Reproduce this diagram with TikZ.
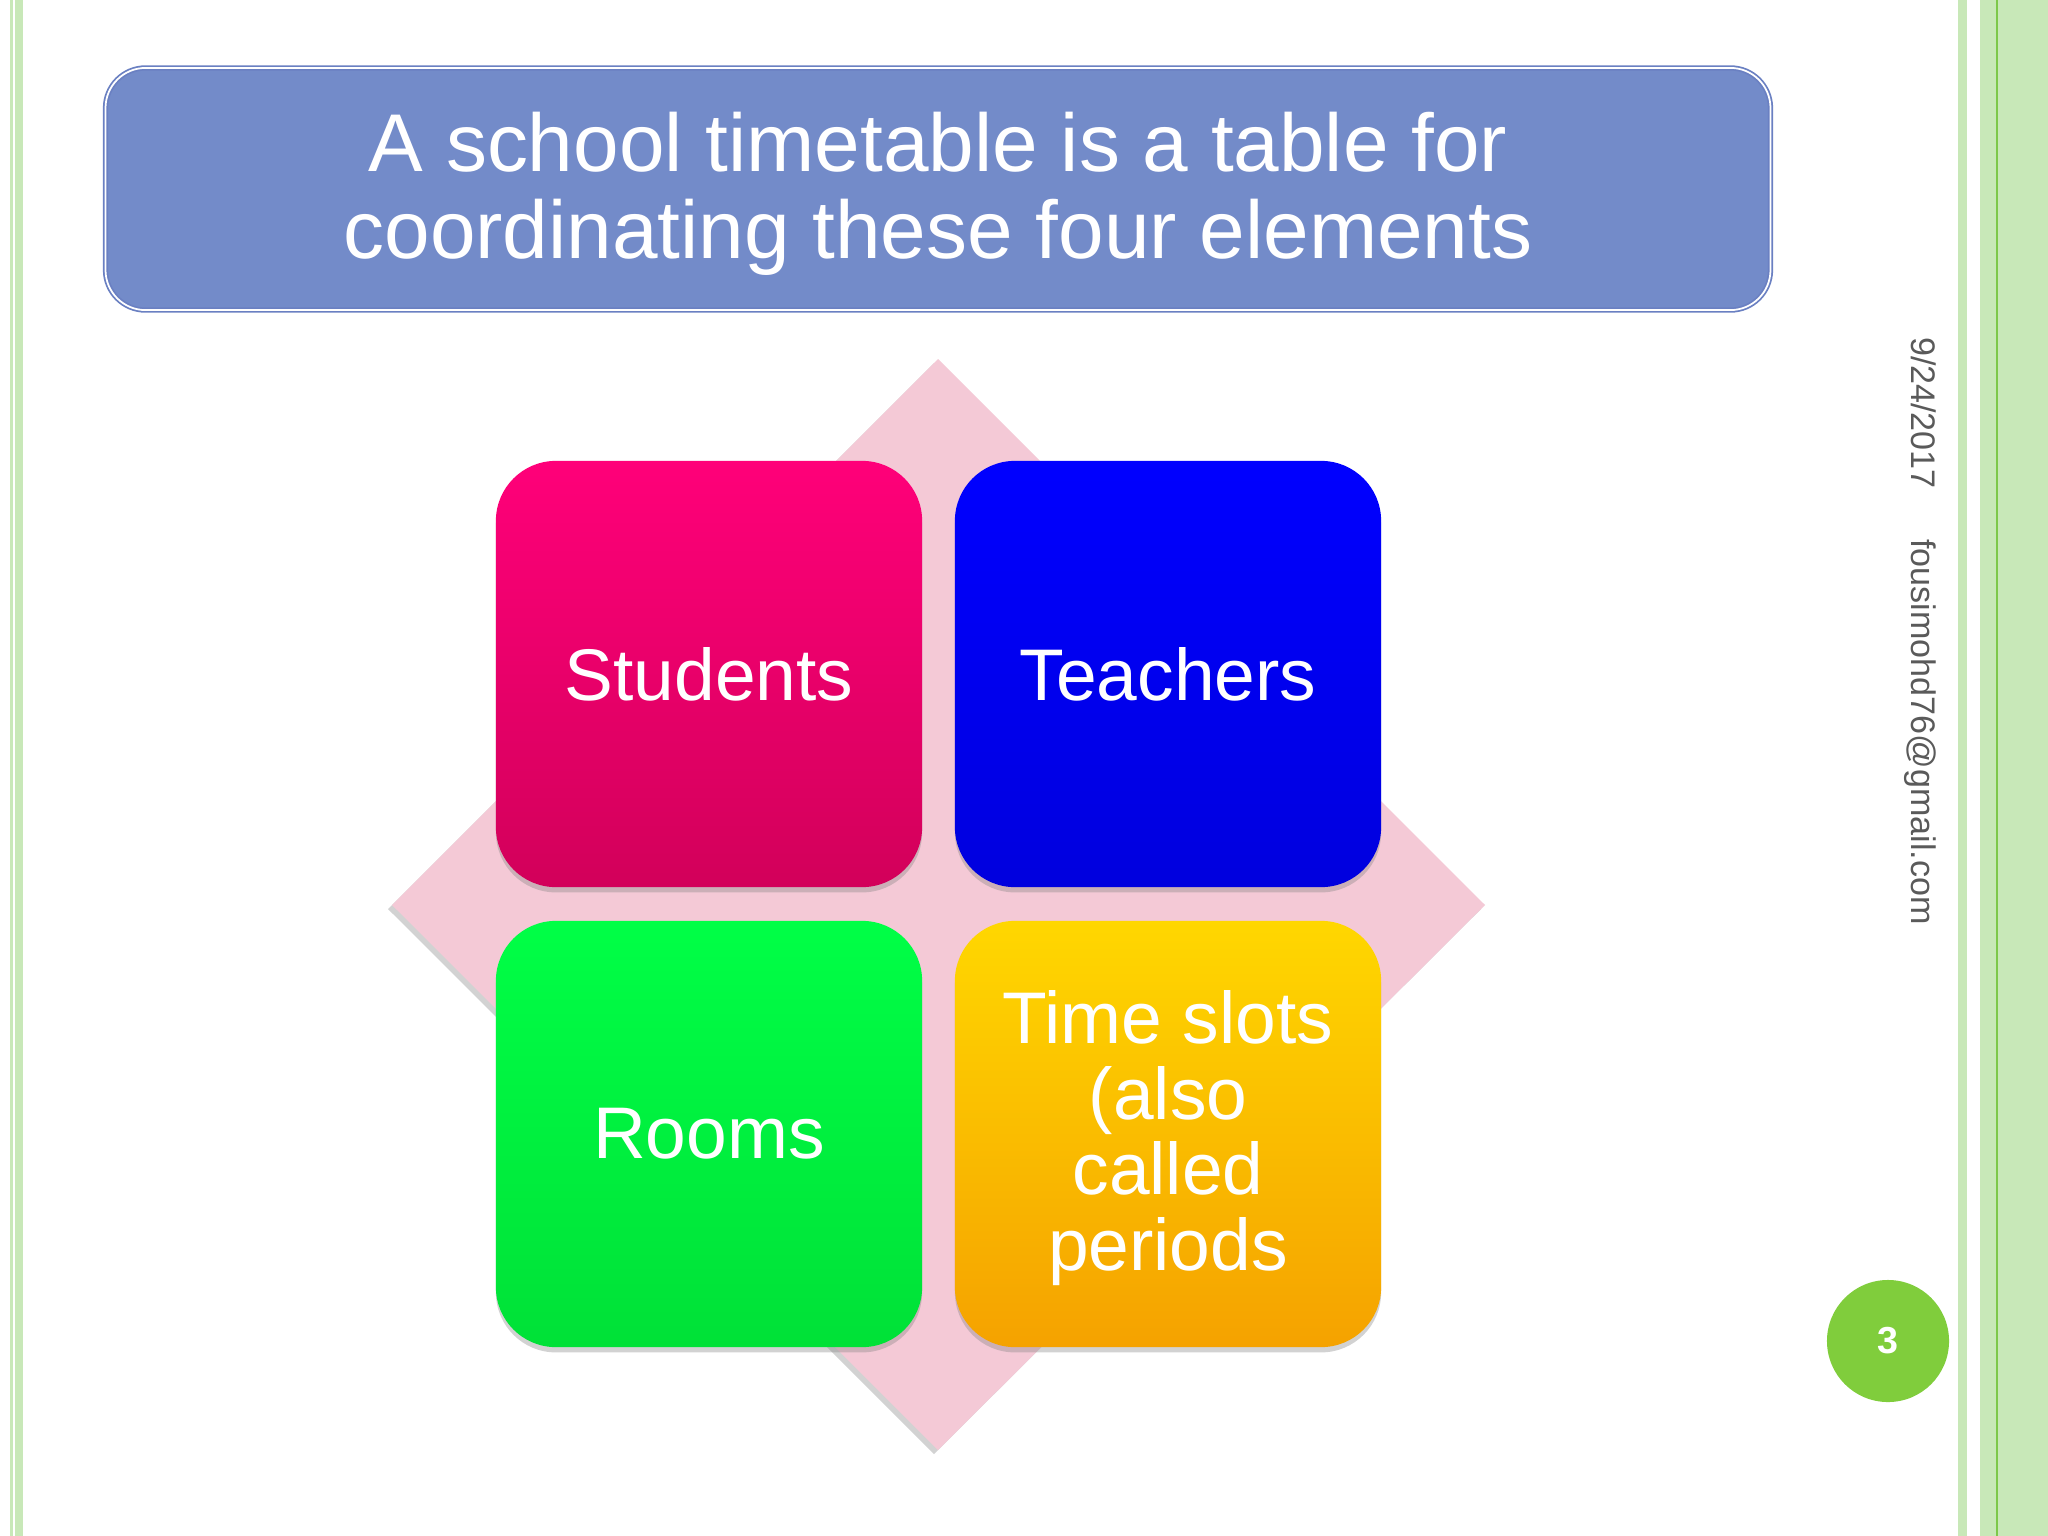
\documentclass[tikz,border=0pt]{standalone}
\usepackage{fontspec}
\setmainfont{Liberation Sans}
\usetikzlibrary{shadows}
\definecolor{bandgreen}{HTML}{C8E8B8}
\definecolor{linegreen}{HTML}{7DC84A}
\definecolor{numgreen}{HTML}{80CD3C}
\definecolor{headfill}{HTML}{738BC9}
\definecolor{headline}{HTML}{6A80C2}
\definecolor{kite}{HTML}{F4C9D6}
\definecolor{footgray}{HTML}{5A5A5A}
\tikzset{
  tile/.style={rounded corners=0.6cm,minimum width=4.26cm,minimum height=4.26cm,
    text=white,align=center,font=\fontsize{20.8}{21.6}\selectfont,
    drop shadow={shadow xshift=0pt,shadow yshift=-1.5pt,opacity=0.35}},
  foot/.style={rotate=-90,anchor=base,text=footgray,font=\fontsize{9.7}{11}\selectfont}
}

\begin{document}
\begin{tikzpicture}[x=0.01cm,y=-0.01cm]
    \useasboundingbox (0,0) rectangle (2048,1536);
    \fill[white] (0,0) rectangle (2048,1536);
    \fill[bandgreen] (10,0) rectangle (23,1536);
    \fill[white] (12.5,0) rectangle (15,1536);
    \fill[bandgreen] (1958,0) rectangle (1967,1536);
    \fill[bandgreen] (1980,0) rectangle (2048,1536);
    \fill[linegreen] (1995.5,0) rectangle (1998,1536);
    \node[rounded corners=0.4cm,minimum width=16.64cm,minimum height=2.42cm,
      fill=headfill,draw=headline,line width=0.5pt,double=white,double distance=0.5pt,
      text=white,align=center,text depth=2pt,font=\fontsize{23.3}{24.6}\selectfont] (H) at (938,189)
      {A school timetable is a table for\\coordinating these four elements};
    \fill[gray!70,opacity=0.5] (934,363) -- (1481,909) -- (934,1454) -- (388,909) -- cycle;
    \fill[kite] (938,359) -- (1485,905) -- (938,1450) -- (392,905) -- cycle;
    \node[tile,top color={rgb,255:red,255;green,0;blue,121},bottom color={rgb,255:red,210;green,0;blue,90}] (S) at (709,674) {Students};
    \node[tile,top color={rgb,255:red,0;green,0;blue,255},bottom color={rgb,255:red,0;green,0;blue,222}] (T) at (1168,674) {Teachers};
    \node[tile,top color={rgb,255:red,0;green,255;blue,70},bottom color={rgb,255:red,0;green,225;blue,55}] (R) at (709,1134) {Rooms};
    \node[tile,text depth=2pt,top color={rgb,255:red,255;green,215;blue,0},bottom color={rgb,255:red,245;green,162;blue,0}] (P) at (1168,1134) {Time slots\\(also\\called\\periods};
    \node[foot] (D) at (1911,413) {9/24/2017};
    \node[foot] (E) at (1911,732) {fousimohd76@gmail.com};
    \node[circle,fill=numgreen,minimum size=1.22cm,text=white,
      font=\bfseries\fontsize{10.7}{12}\selectfont] (N) at (1888,1341) {3};
\end{tikzpicture}
\end{document}
